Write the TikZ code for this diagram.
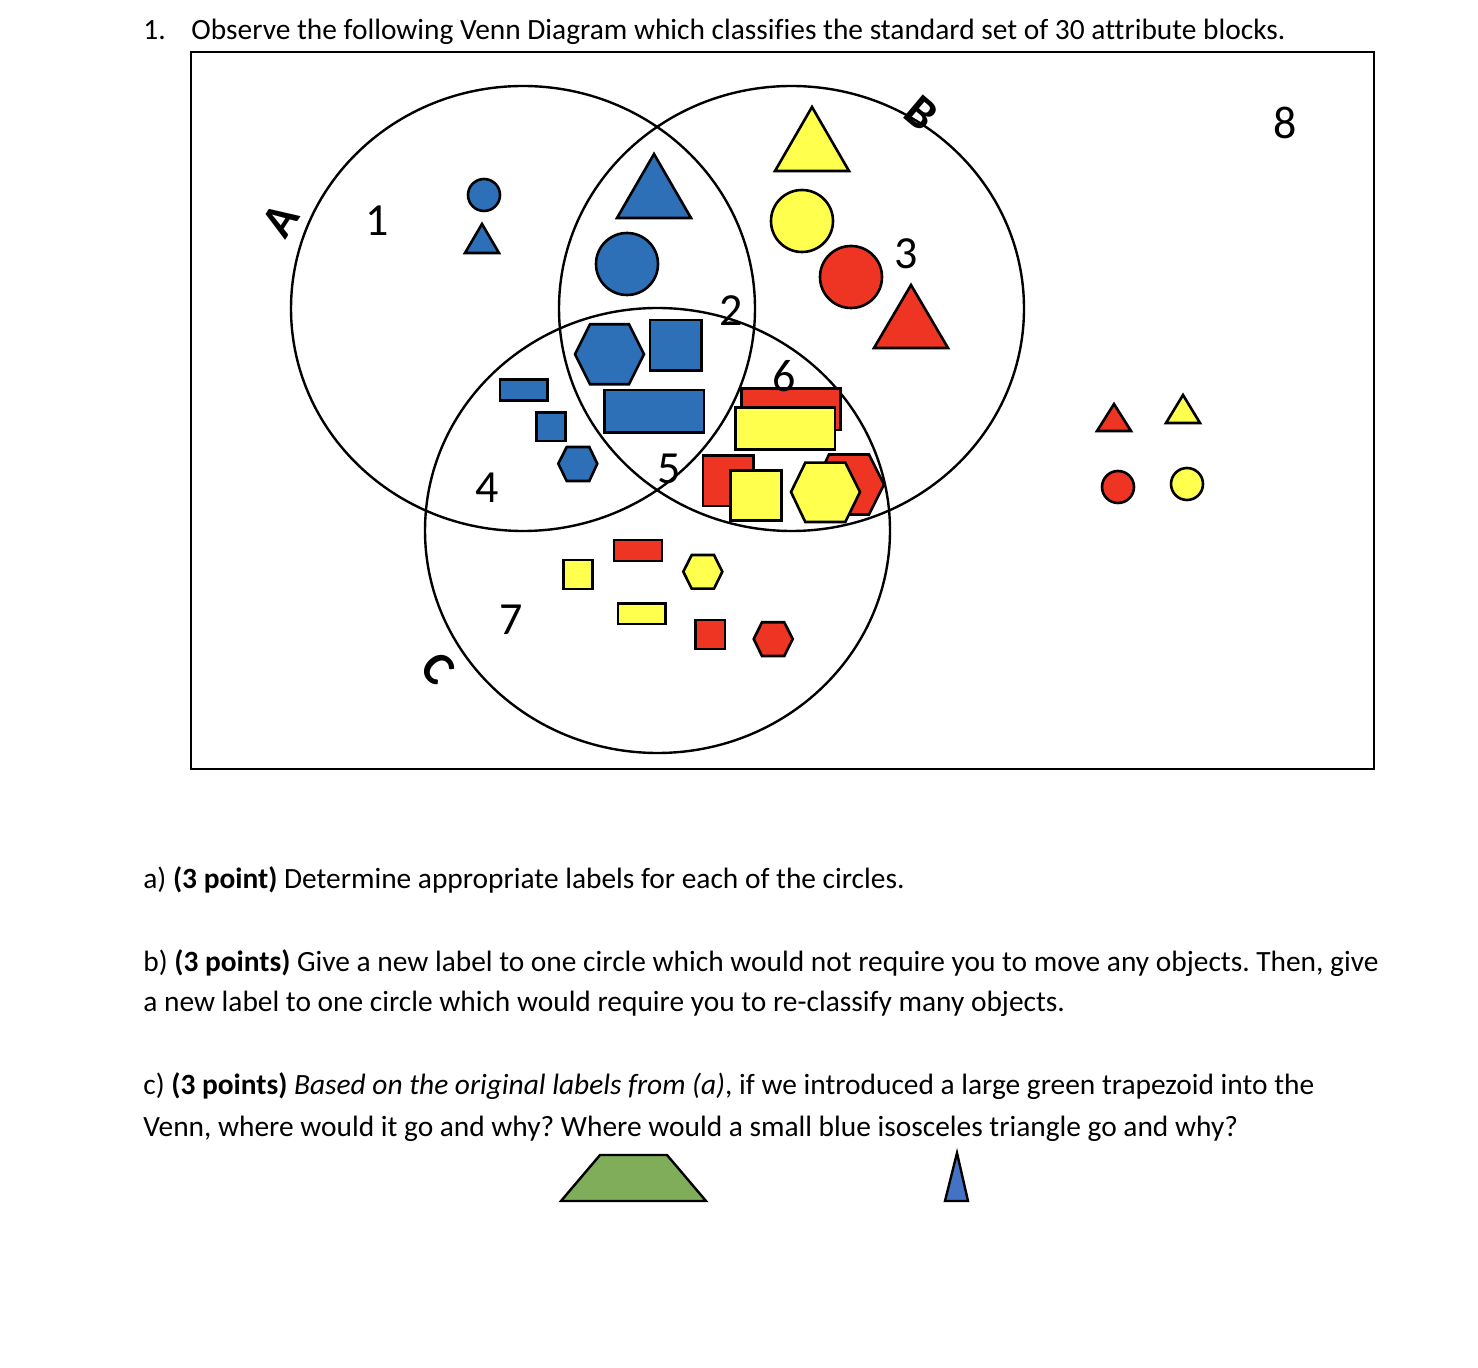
\documentclass[tikz,border=0pt]{standalone}
\usepackage{fontspec}
\setmainfont[Ligatures=NoCommon]{Carlito}
\definecolor{blockblue}{RGB}{46,112,184}
\definecolor{blockred}{RGB}{238,53,36}
\definecolor{blockyellow}{RGB}{255,255,77}
\definecolor{trapgreen}{RGB}{127,173,90}
\definecolor{thinblue}{RGB}{68,114,196}
\tikzset{
    venn/.style={line width=1.2pt},
    % one style per colour of block
    bluebk/.style={line width=1.3pt,fill=blockblue},
    redbk/.style={line width=1.3pt,fill=blockred},
    yellowbk/.style={line width=1.3pt,fill=blockyellow},
    digit/.style={font=\fontsize{23}{24}\selectfont,inner sep=0pt},
    setname/.style={font=\fontsize{23.5}{24}\selectfont\bfseries,inner sep=0pt},
    textline/.style={font=\fontsize{14.7}{16}\selectfont\frenchspacing,anchor=base west,inner sep=0pt}
}
\begin{document}
\begin{tikzpicture}[x=0.5pt,y=-0.5pt]
    \useasboundingbox (0,0) rectangle (1478,1368);
    \fill[white] (0,0) rectangle (1478,1368);

    \node[textline] (qone) at (143,40) {1.};
    \node[textline] (qonetext) at (191,40) {Observe the following Venn Diagram which classifies the standard set of 30 attribute blocks.};

    \draw[venn] (191,52) rectangle (1374,769);
    \draw[venn] (523,308.5) ellipse (232 and 222.5);
    \draw[venn] (791.5,308.5) ellipse (232.5 and 222.5);
    \draw[venn] (657.5,530.5) ellipse (232.5 and 222.5);

    % circle A only
    \draw[bluebk] (484,195) circle (16);
    \draw[bluebk] (482,224) -- (499,253) -- (465,253) -- cycle;
    % A and B
    \draw[bluebk] (654,154) -- (691,218) -- (617,218) -- cycle;
    \draw[bluebk] (627,264) circle (31);
    % circle B only
    \draw[yellowbk] (812,107) -- (849,171) -- (775,171) -- cycle;
    \draw[yellowbk] (802,221) circle (31);
    \draw[redbk] (851,277) circle (31);
    \draw[redbk] (911,285) -- (948,348) -- (874,348) -- cycle;
    % A, B and C
    \draw[bluebk] (575,354.3) -- (590,324.3) -- (629,324.3) -- (644,354.3) -- (629,384.3) -- (590,384.3) -- cycle;
    \draw[bluebk] (650,320) rectangle (701.3,370.7);
    \draw[bluebk] (604.3,390) rectangle (704,432.3);
    % A and C
    \draw[bluebk] (500,379.7) rectangle (547.7,400.3);
    \draw[bluebk] (536.7,412.3) rectangle (565.7,441);
    \draw[bluebk] (558.3,463.7) -- (566.7,447) -- (589.3,447) -- (597.3,463.7) -- (589.3,481) -- (566.7,481) -- cycle;
    % B and C
    \draw[redbk] (741.7,388.3) rectangle (840.7,430);
    \draw[yellowbk] (735.7,407.3) rectangle (835,449.3);
    \draw[redbk] (703,455.7) rectangle (753.7,506);
    \draw[yellowbk] (730.7,470.7) rectangle (781.7,520.7);
    \draw[redbk] (815,484.5) -- (829,454.5) -- (869,454.5) -- (884,484.5) -- (869,514.5) -- (829,514.5) -- cycle;
    \draw[yellowbk] (791,492) -- (805.3,462.7) -- (845.3,462.7) -- (860,492) -- (845.3,522) -- (805.3,522) -- cycle;
    % circle C only
    \draw[redbk] (614,540) rectangle (662,561);
    \draw[yellowbk] (563.3,560) rectangle (592.3,589);
    \draw[yellowbk] (683.3,571.7) -- (691.7,555) -- (714,555) -- (722.3,571.7) -- (714,588.7) -- (691.7,588.7) -- cycle;
    \draw[yellowbk] (618,603.7) rectangle (665.7,624);
    \draw[redbk] (695.7,620) rectangle (725,649);
    \draw[redbk] (753.7,639) -- (762,622.3) -- (784.3,622.3) -- (792.7,639) -- (784.3,656) -- (762,656) -- cycle;
    % outside
    \draw[redbk] (1114,404) -- (1131,431) -- (1097,431) -- cycle;
    \draw[yellowbk] (1183,395) -- (1200,423) -- (1166,423) -- cycle;
    \draw[redbk] (1118,487) circle (16);
    \draw[yellowbk] (1187,484) circle (16);

    \node[digit] (rone) at (377,220.5) {1};
    \node[digit] (rtwo) at (731,310.5) {2};
    \node[digit] (rthree) at (906,253.5) {3};
    \node[digit] (rfour) at (487,487.5) {4};
    \node[digit] (rfive) at (669,468.5) {5};
    \node[digit] (rsix) at (784,376.5) {6};
    \node[digit] (rseven) at (511,619.5) {7};
    \node[digit] (reight) at (1285,122.5) {8};
    \node[setname,rotate=57] (seta) at (280,220) {A};
    \node[setname,rotate=-40] (setb) at (921,113) {B};
    \node[setname,rotate=-48] (setc) at (438,669) {C};

    \node[textline] (qa) at (143,888.5) {a) \textbf{(3 point)} Determine appropriate labels for each of the circles.};
    \node[textline] (qb) at (143,971.5) {b) \textbf{(3 points)} Give a new label to one circle which would not require you to move any objects. Then, give};
    \node[textline] (qbb) at (143,1011.5) {a new label to one circle which would require you to re-classify many objects.};
    \node[textline] (qc) at (143,1094.5) {c) \textbf{(3 points)} \textit{Based on the original labels from (a)}, if we introduced a large green trapezoid into the};
    \node[textline] (qcc) at (143,1136.5) {Venn, where would it go and why? Where would a small blue isosceles triangle go and why?};

    \draw[line width=1.2pt,fill=trapgreen] (561,1201) -- (600,1155) -- (667,1155) -- (706,1201) -- cycle;
    \draw[line width=1.2pt,fill=thinblue] (957,1153) -- (968,1201) -- (945,1201) -- cycle;
\end{tikzpicture}
\end{document}
